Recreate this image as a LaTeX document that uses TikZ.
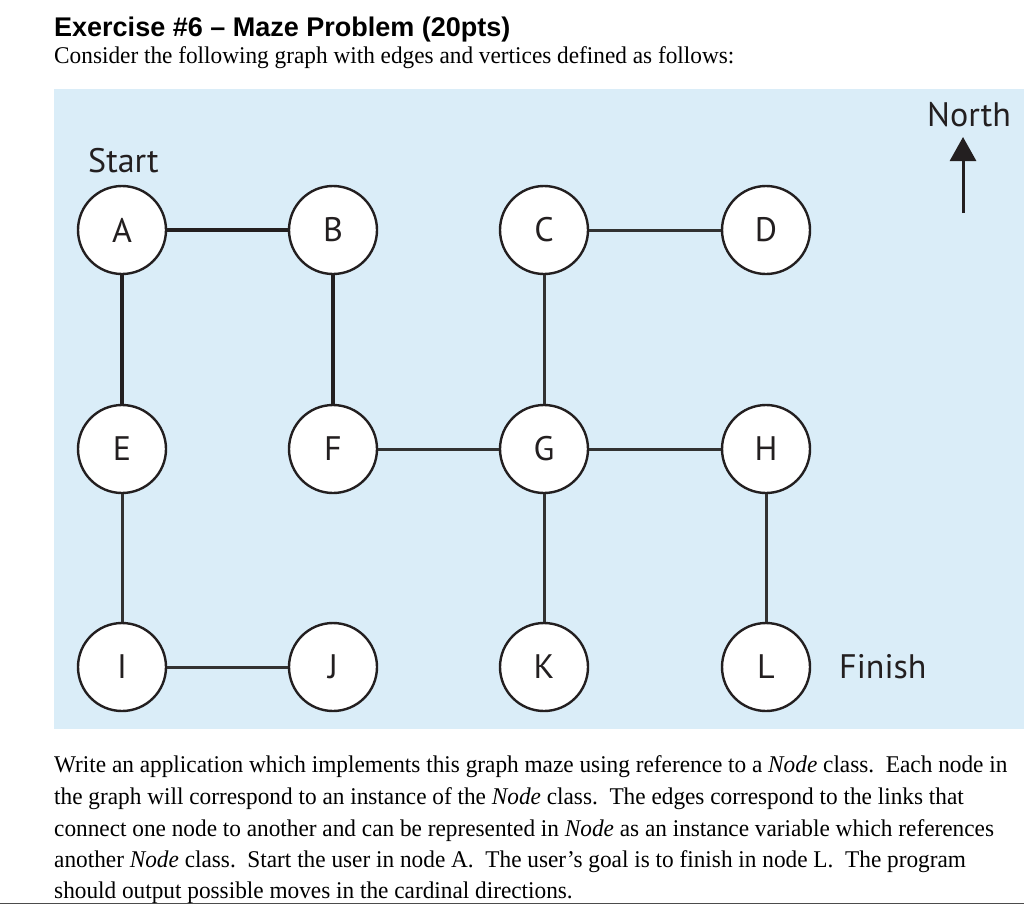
\documentclass[tikz,border=0pt]{standalone}
\usepackage{fontspec}
\setmainfont[FakeStretch=0.97]{Liberation Serif}
\newfontfamily\titlefont{Liberation Sans}
\newfontfamily\diagfont{PT Sans}
\usetikzlibrary{arrows.meta}
\definecolor{panelblue}{RGB}{218,237,248}
\definecolor{ink}{RGB}{35,31,32}
\definecolor{edgegray}{RGB}{50,50,50}
\tikzset{
  vertex/.style={circle, draw=ink, line width=2.4pt, fill=white, minimum size=88pt, inner sep=0pt,
    font=\diagfont\fontsize{34}{40}\selectfont, text=ink},
  edge/.style={line width=3pt, draw=edgegray},
  darkedge/.style={line width=3.2pt, draw=ink},
  label/.style={inner sep=0pt, anchor=base west, font=\diagfont\fontsize{34}{40}\selectfont, text=ink},
  para/.style={inner sep=0pt, anchor=base west, font=\fontsize{24}{30}\selectfont},
}
\begin{document}
\begin{tikzpicture}[x=1pt,y=-1pt]
\useasboundingbox (0,0) rectangle (1024,905);
\fill[white] (0,0) rectangle (1024,905);
% panel
\fill[panelblue] (54,89) rectangle (1024,729);
% title
\node[inner sep=0pt, anchor=base west, font=\titlefont\bfseries\fontsize{27}{31}\selectfont] (title) at (54,36) {Exercise \#6 – Maze Problem (20pts)};
\node[para] (intro) at (54,63) {Consider the following graph with edges and vertices defined as follows:};
% vertices
\node[vertex] (A) at (122,230) {A};
\node[vertex] (B) at (333,230) {B};
\node[vertex] (C) at (544,230) {C};
\node[vertex] (D) at (766,230) {D};
\node[vertex] (E) at (122,449) {E};
\node[vertex] (F) at (333,449) {F};
\node[vertex] (G) at (544,449) {G};
\node[vertex] (H) at (766,449) {H};
\node[vertex] (I) at (122,667) {I};
\node[vertex] (J) at (333,667) {J};
\node[vertex] (K) at (544,667) {K};
\node[vertex] (L) at (766,667) {L};
% edges
\draw[darkedge] (A) -- (B);
\draw[darkedge] (A) -- (E);
\draw[darkedge] (B) -- (F);
\draw[edge] (C) -- (D);
\draw[edge] (C) -- (G);
\draw[edge] (F) -- (G);
\draw[edge] (G) -- (H);
\draw[edge] (E) -- (I);
\draw[edge] (G) -- (K);
\draw[edge] (H) -- (L);
\draw[edge] (I) -- (J);
% labels
\node[label] (start) at (88,172) {Start};
\node[label] (finish) at (839,678) {Finish};
\node[label] (north) at (927,126) {North};
\coordinate (ntail) at (963,213);
\coordinate (ntip) at (963,137);
\draw[line width=3pt, draw=ink, -{Triangle[length=24pt,width=26pt]}] (ntail) -- (ntip);
% paragraph
\node[para] (p1) at (54,772) {Write an application which implements this graph maze using reference to a \textit{Node} class.\ \ Each node in};
\node[para] (p2) at (54,804) {the graph will correspond to an instance of the \textit{Node} class.\ \ The edges correspond to the links that};
\node[para] (p3) at (54,836) {connect one node to another and can be represented in \textit{Node} as an instance variable which references};
\node[para] (p4) at (54,867) {another \textit{Node} class.\ \ Start the user in node A.\ \ The user’s goal is to finish in node L.\ \ The program};
\node[para] (p5) at (54,898) {should output possible moves in the cardinal directions.};
\coordinate (rule1) at (0,903.5);
\coordinate (rule2) at (1024,903.5);
\draw[line width=1.5pt, draw=black!70] (rule1) -- (rule2);
\end{tikzpicture}
\end{document}
